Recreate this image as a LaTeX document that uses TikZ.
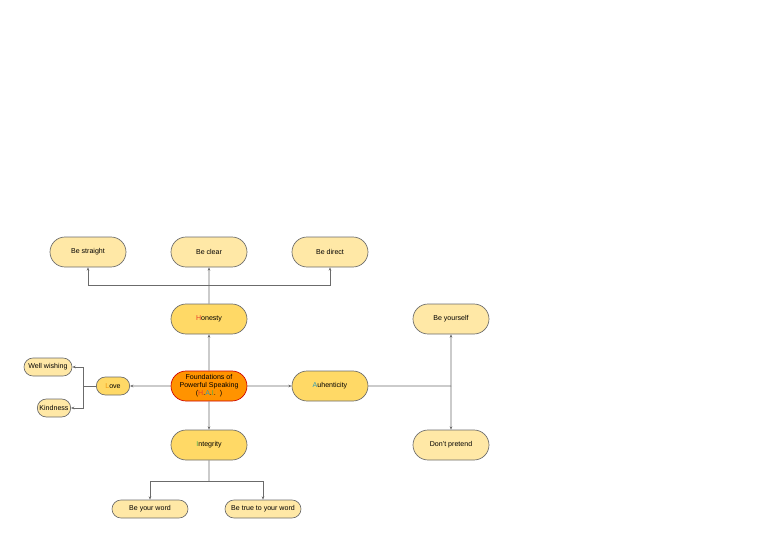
\documentclass[tikz,border=0pt]{standalone}
\usepackage{fontspec}
\setmainfont{Liberation Sans}
\usetikzlibrary{arrows.meta,shapes.misc}
\definecolor{mainf}{HTML}{FFD966}
\definecolor{leaff}{HTML}{FFE8A6}
\definecolor{edgec}{HTML}{6B6B6B}
\definecolor{hc}{HTML}{E8412C}
\definecolor{ac}{HTML}{2E9BB5}
\definecolor{ic}{HTML}{4CAF50}
\definecolor{lc}{HTML}{F39C12}
\begin{document}
\begin{tikzpicture}[x=0.75pt,y=-0.75pt,
  box/.style={rounded rectangle,draw=edgec,line width=0.5pt,font=\fontsize{5.3}{6}\selectfont,inner sep=0pt,align=center},
  mainbox/.style={box,fill=mainf,minimum width=57pt,minimum height=22.5pt},
  leafbox/.style={box,fill=leaff,minimum width=57pt,minimum height=22.5pt},
  smallbox/.style={box,fill=leaff,minimum height=13.5pt},
  conn/.style={draw=edgec,line width=0.5pt,-{Stealth[length=2.5pt,width=2pt]}},
  line/.style={draw=edgec,line width=0.5pt}]
\useasboundingbox (0,0) rectangle (768,539);
\node[leafbox] (bs) at (88,252) {Be straight};
\node[leafbox] (bc) at (209,252) {Be clear};
\node[leafbox] (bd) at (330,252) {Be direct};
\node[mainbox] (hon) at (209,319) {\textcolor{hc}{H}onesty};
\node[box,fill=orange!85!yellow,draw=red!80!black,minimum width=57pt,minimum height=22.5pt] (ctr) at (209,386) {Foundations of\\Powerful Speaking\\(\textcolor{hc}{H}.\textcolor{ac}{A}.\textcolor{ic}{I}.\textcolor{lc}{L})};
\node[box,fill=mainf,minimum width=25pt,minimum height=13.5pt] (love) at (113,386) {\textcolor{lc}{L}ove};
\node[smallbox,minimum width=36pt] (ww) at (48,367) {Well wishing};
\node[smallbox,minimum width=25pt] (kd) at (54,408) {Kindness};
\node[mainbox] (aut) at (330,386) {\textcolor{ac}{A}uhenticity};
\node[leafbox] (by) at (451,319) {Be yourself};
\node[leafbox] (dp) at (451,445) {Don't pretend};
\node[mainbox] (int) at (209,445) {\textcolor{ic}{I}ntegrity};
\node[smallbox,minimum width=57pt] (bw) at (150,509) {Be your word};
\node[smallbox,minimum width=57pt] (bt) at (263,509) {Be true to your word};
\coordinate (hj) at (209,285);
\coordinate (lj) at (83,386);
\coordinate (aj) at (451,386);
\coordinate (ij) at (209,481);
% honesty
\draw[conn] (ctr) -- (hon);
\draw[line] (hon) -- (hj);
\draw[conn] (hj) -- (bc);
\draw[conn] (hj) -| (bs);
\draw[conn] (hj) -| (bd);
% love
\draw[conn] (ctr) -- (love);
\draw[line] (love) -- (lj);
\draw[conn] (lj) |- (ww);
\draw[conn] (lj) |- (kd);
% authenticity
\draw[conn] (ctr) -- (aut);
\draw[line] (aut) -- (aj);
\draw[conn] (aj) -- (by);
\draw[conn] (aj) -- (dp);
% integrity
\draw[conn] (ctr) -- (int);
\draw[line] (int) -- (ij);
\draw[conn] (ij) -| (bw);
\draw[conn] (ij) -| (bt);
\end{tikzpicture}
\end{document}
